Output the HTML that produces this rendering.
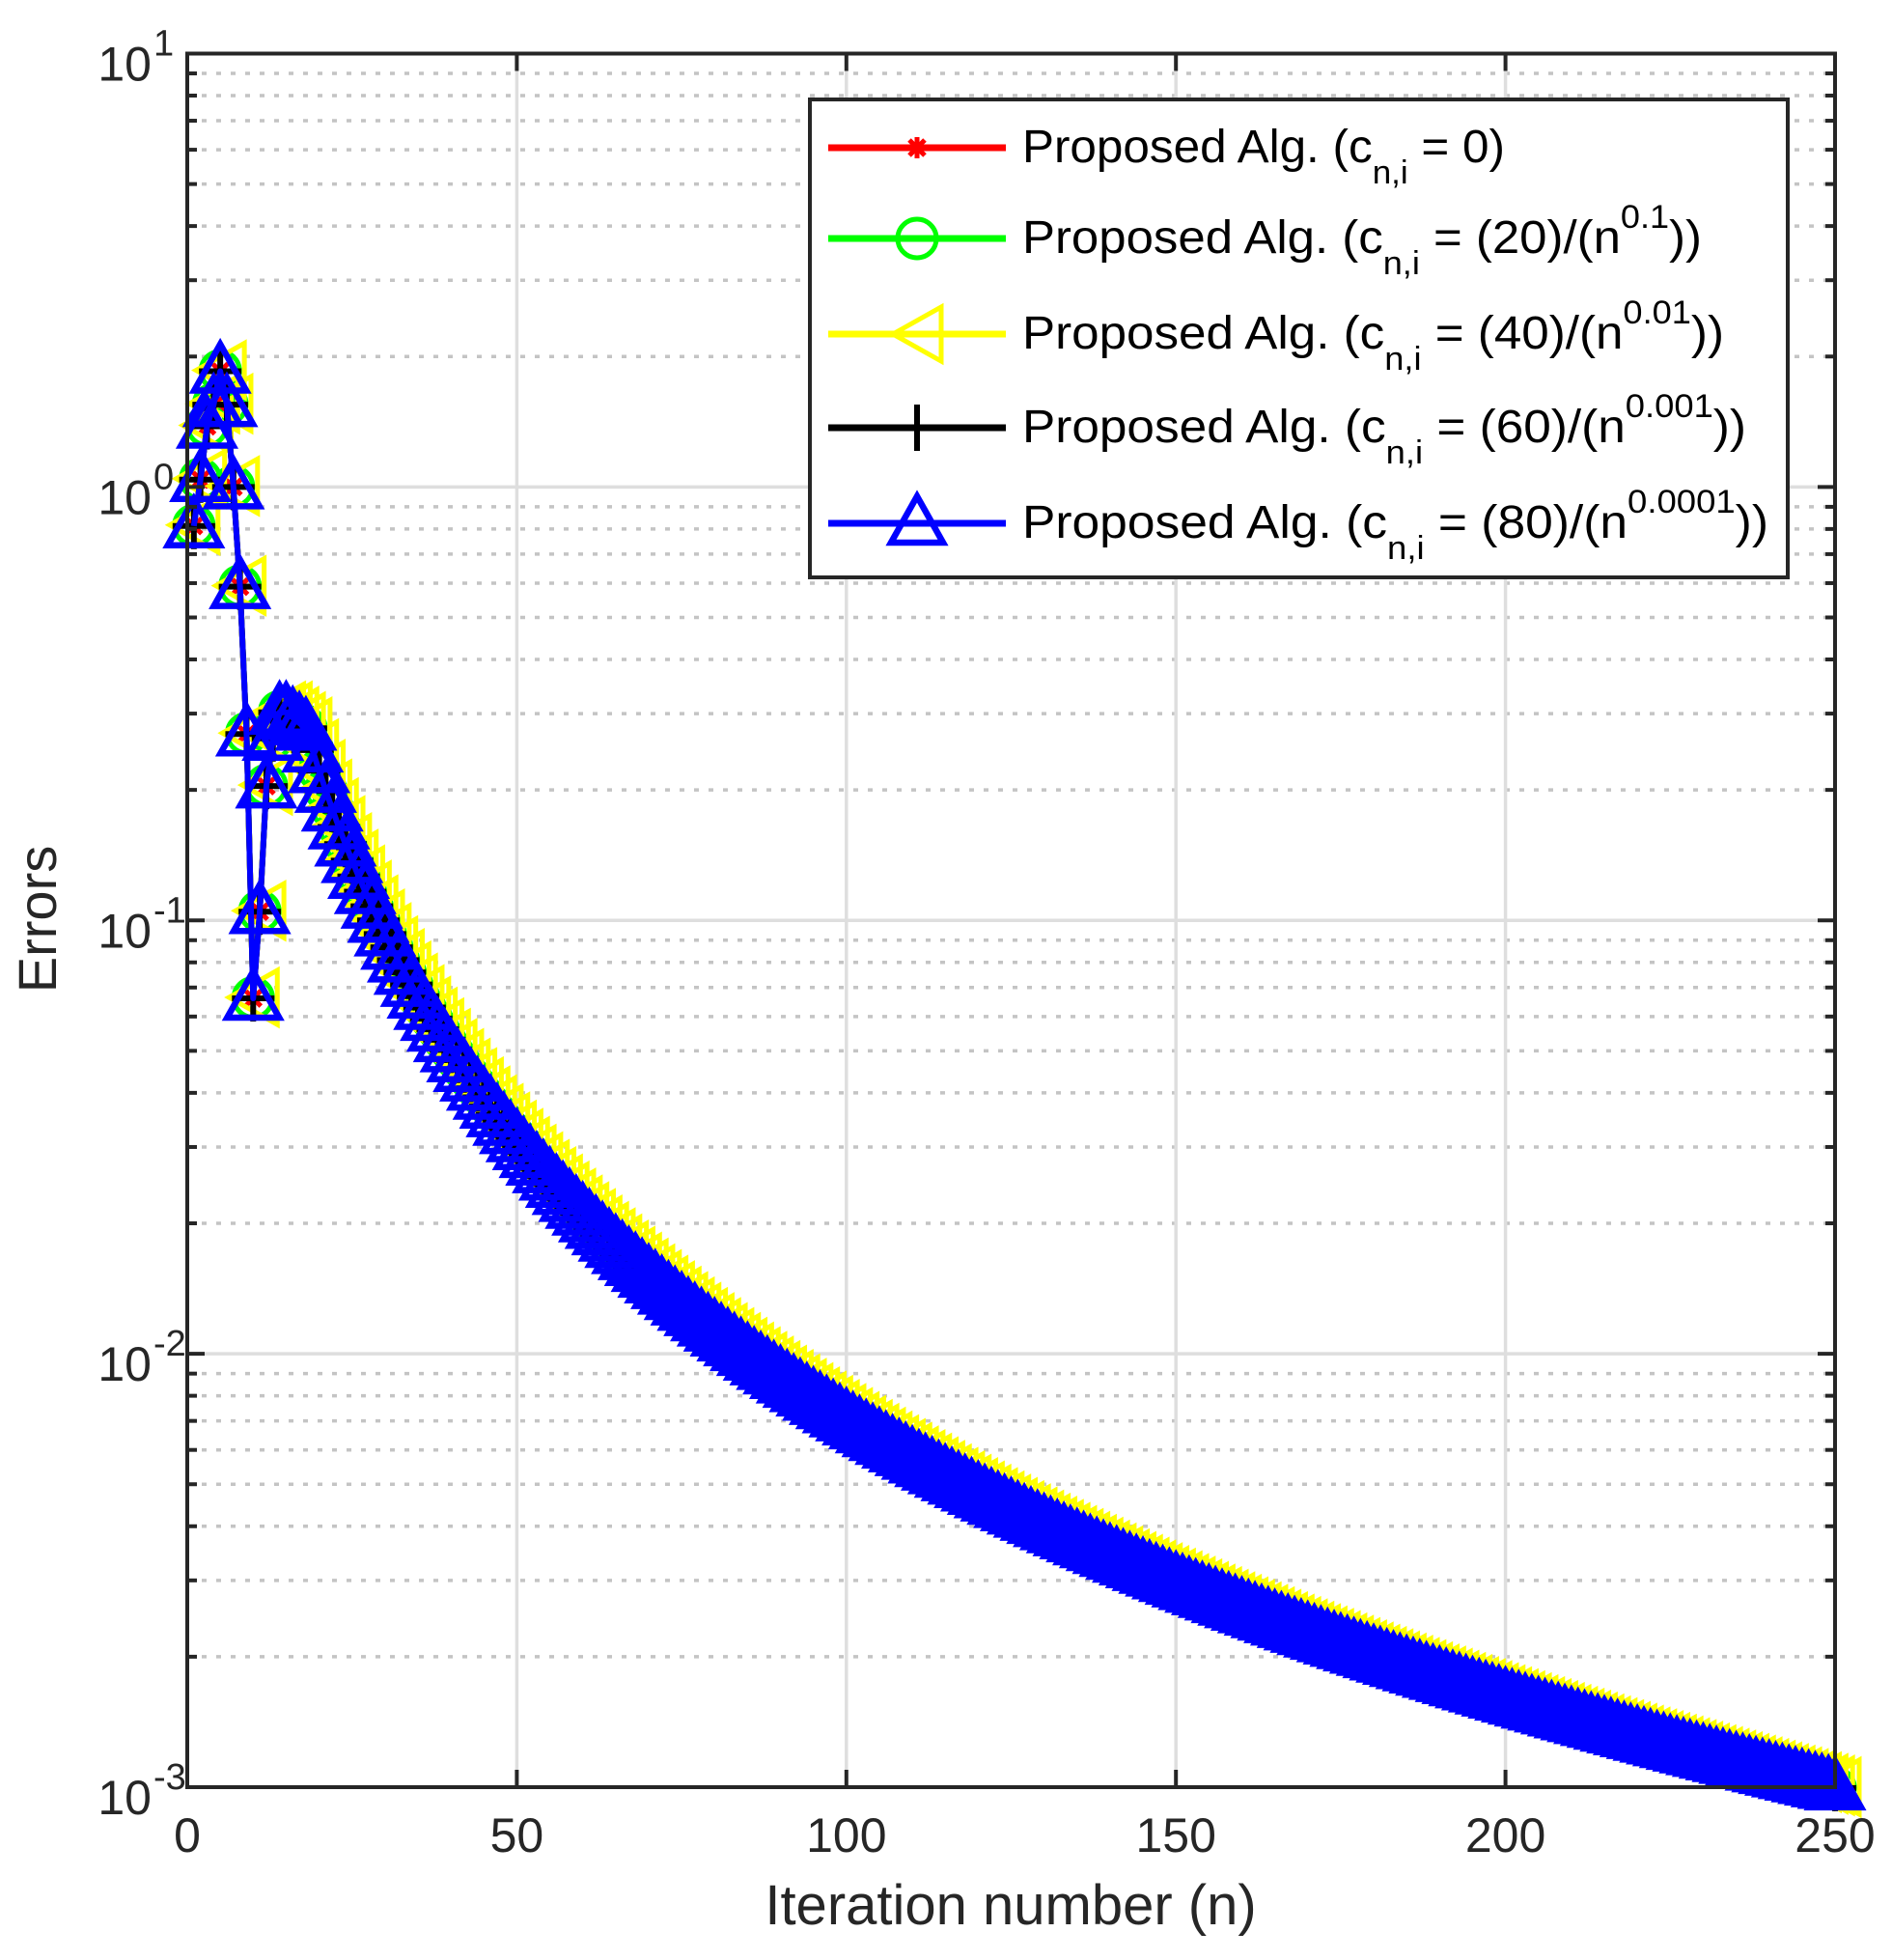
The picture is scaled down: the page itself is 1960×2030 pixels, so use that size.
<!DOCTYPE html>
<html><head><meta charset="utf-8"><style>html,body{margin:0;padding:0;background:#fff}svg{display:block}</style></head>
<body>
<svg id="s" xmlns="http://www.w3.org/2000/svg" width="1960" height="2030" viewBox="0 0 1960 2030" font-family="Liberation Sans, Arial, sans-serif">
<rect width="1960" height="2030" fill="#fff"/>
<g id="grid"></g>
<g id="data"></g>
<g id="axes"></g>
<g id="labels" fill="#262626">
  <text x="1047" y="1993" font-size="58" text-anchor="middle">Iteration number (n)</text>
  <text transform="translate(58,952) rotate(-90)" font-size="56" text-anchor="middle">Errors</text>
</g>
<g id="legend">
  <rect x="839" y="103" width="1013" height="495" fill="#fff" stroke="#262626" stroke-width="4"/>
</g>
</svg>
<script>
(function(){
var NS="http://www.w3.org/2000/svg";
var L=194,R=1901,T=55.5,B=1851;
function X(n){return L+(R-L)*n/250;}
function Y(lg){return T+(1-lg)*(B-T)/4;}
function el(p,tag,at,txt){var e=document.createElementNS(NS,tag);for(var k in at)e.setAttribute(k,at[k]);if(txt!==undefined)e.textContent=txt;p.appendChild(e);return e;}
var grid=document.getElementById('grid'),axes=document.getElementById('axes'),data=document.getElementById('data'),lab=document.getElementById('labels'),leg=document.getElementById('legend');
for(var d=-3;d<1;d++){for(var m=2;m<=9;m++){var y=Y(d+Math.log10(m));
 el(grid,'line',{x1:L,x2:R,y1:y,y2:y,stroke:'#c4c4c4','stroke-width':3.5,'stroke-dasharray':'5 10'});}}
for(var d=-2;d<=0;d++){var y=Y(d);el(grid,'line',{x1:L,x2:R,y1:y,y2:y,stroke:'#dedede','stroke-width':3.5});}
for(var n=50;n<250;n+=50){var x=X(n);el(grid,'line',{x1:x,x2:x,y1:T,y2:B,stroke:'#dedede','stroke-width':3.5});}
var early=[-0.09,0.017,0.14,0.19,0.267,0.19,0,-0.23,-0.57,-1.18,-0.98,-0.69,-0.58,-0.52,-0.52];
function pw(n){return -1-2.14*Math.log10(n/29);}
function val(n){if(n<=15)return early[n-1];if(n>=18)return pw(n);var t=(n-15)/3;return -0.52+t*(pw(18)+0.52);}
var pts=[];for(var n=1;n<=250;n++)pts.push([X(n),Y(val(n))]);
function star(g,x,y,c){var s=11;el(g,'path',{d:'M'+(x-s)+' '+y+'H'+(x+s)+'M'+x+' '+(y-s)+'V'+(y+s)+'M'+(x-8)+' '+(y-8)+'L'+(x+8)+' '+(y+8)+'M'+(x-8)+' '+(y+8)+'L'+(x+8)+' '+(y-8),stroke:c,'stroke-width':5,fill:'none'});}
function circ(g,x,y){el(g,'circle',{cx:x,cy:y,r:20,stroke:'#00ff00','stroke-width':5,fill:'none'});}
function ltri(g,x,y){el(g,'polygon',{points:(x-25)+','+y+' '+(x+25)+','+(y-28)+' '+(x+25)+','+(y+28),stroke:'#ffff00','stroke-width':5,fill:'none'});}
function plus(g,x,y){el(g,'path',{d:'M'+(x-22)+' '+y+'H'+(x+22)+'M'+x+' '+(y-24)+'V'+(y+24),stroke:'#000','stroke-width':6,fill:'none'});}
function utri(g,x,y){el(g,'polygon',{points:x+','+(y-28)+' '+(x+27)+','+(y+20)+' '+(x-27)+','+(y+20),stroke:'#0000ff','stroke-width':6.5,fill:'none'});}
var ser=[['#ff0000',star],['#00ff00',circ],['#ffff00',ltri],['#000000',plus],['#0000ff',utri]];
ser.forEach(function(s,k){var g=el(data,'g',{});
 var off=(k==2)?-1:(k==1?-0.5:0);
 el(g,'polyline',{points:pts.map(function(p){return p[0]+','+(p[1]+off);}).join(' '),fill:'none',stroke:s[0],'stroke-width':6,'stroke-linejoin':'round'});
 pts.forEach(function(p){ if(k==0) star(g,p[0],p[1],'#ff0000'); else s[1](g,p[0],p[1]+off);});
});
el(axes,'rect',{x:L,y:T,width:R-L,height:B-T,fill:'none',stroke:'#262626','stroke-width':4});
for(var n=0;n<=250;n+=50){var x=X(n);
 el(axes,'line',{x1:x,x2:x,y1:B,y2:B-18,stroke:'#262626','stroke-width':4});
 el(axes,'line',{x1:x,x2:x,y1:T,y2:T+18,stroke:'#262626','stroke-width':4});
 el(lab,'text',{x:x,y:1918,'font-size':50,'text-anchor':'middle'},String(n));}
for(var d=-3;d<=1;d++){var y=Y(d);
 el(axes,'line',{x1:L,x2:L+18,y1:y,y2:y,stroke:'#262626','stroke-width':4});
 el(axes,'line',{x1:R,x2:R-18,y1:y,y2:y,stroke:'#262626','stroke-width':4});
 el(lab,'text',{x:157,y:y+28,'font-size':50,'text-anchor':'end'},'10');
 el(lab,'text',{x:159,y:y+2,'font-size':38,'text-anchor':'start'},String(d));
 if(d<1)for(var m=2;m<=9;m++){var yy=Y(d+Math.log10(m));
  el(axes,'line',{x1:L,x2:L+10,y1:yy,y2:yy,stroke:'#262626','stroke-width':4});
  el(axes,'line',{x1:R,x2:R-10,y1:yy,y2:yy,stroke:'#262626','stroke-width':4});}}
var rows=[[153,'#ff0000',null,'0',500],[247,'#00ff00','0.1','(20)',704],[346,'#ffff00','0.01','(40)',727],[443,'#000',"0.001",'(60)',750],[542,'#0000ff','0.0001','(80)',773]];
rows.forEach(function(r,i){var y=r[0];
 el(leg,'line',{x1:858,x2:1042,y1:y,y2:y,stroke:r[1],'stroke-width':7});
 var f=[star,circ,ltri,plus,utri][i];
 if(i==0)star(leg,950,y,'#ff0000');else f(leg,950,y);
 var t=el(leg,'text',{x:1059,y:y+15,'font-size':48,fill:'#000',textLength:r[4],lengthAdjust:'spacingAndGlyphs'});
 el(t,'tspan',{},i==0?'Proposed Alg. (c':'Proposed  Alg. (c');
 el(t,'tspan',{dy:22,'font-size':34},'n,i');
 if(i==0){el(t,'tspan',{dy:-22},' = 0)');}
 else{el(t,'tspan',{dy:-22},' = '+r[3]+'/(n');el(t,'tspan',{dy:-26,'font-size':34},r[2]);el(t,'tspan',{dy:26},'))');}
});
})();
</script>
</body></html>
